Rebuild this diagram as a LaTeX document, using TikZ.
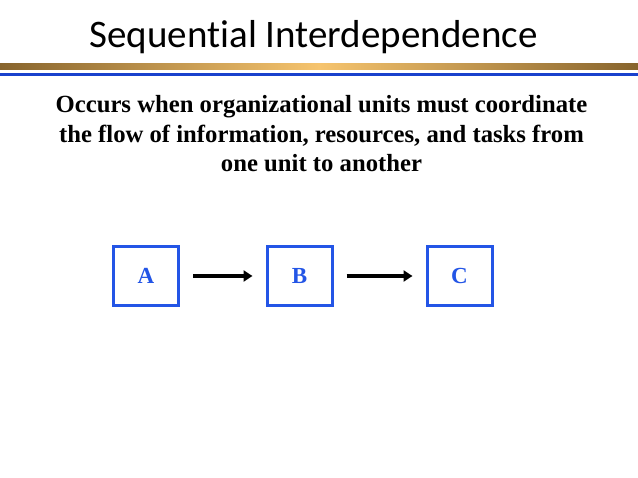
\documentclass[tikz,border=0pt]{standalone}
\usepackage{fontspec}
\setmainfont{Liberation Serif}
\newfontfamily\titlefont[Ligatures=NoCommon]{Carlito}
\usetikzlibrary{arrows.meta}

\definecolor{boxblue}{RGB}{35,85,230}
\definecolor{golddark}{RGB}{135,100,45}
\definecolor{goldlight}{RGB}{246,196,110}
\definecolor{lineblue}{RGB}{25,65,205}

\tikzset{
  unitbox/.style={draw=boxblue, line width=3pt, minimum width=65pt, minimum height=59pt,
    inner sep=0pt, text=boxblue, font=\bfseries\fontsize{23}{26}\selectfont},
  flow/.style={-{Triangle[length=9pt,width=11pt]}, line width=3.5pt,
    shorten <=13pt, shorten >=13pt}
}

\begin{document}
\begin{tikzpicture}[x=1pt,y=-1pt]
  \useasboundingbox (0,0) rectangle (638,478);

  % title and rule
  \node (title) [anchor=base, font=\titlefont\fontsize{39}{42}\selectfont] at (313.5,48) {Sequential Interdependence};
  \shade [left color=golddark, right color=golddark, middle color=goldlight] (0,64) rectangle (638,70);
  \fill [lineblue] (0,73) rectangle (638,76);

  % statement (base = last line)
  \node (text) [anchor=base, align=center, font=\bfseries\fontsize{24.7}{29.5}\selectfont] at (321.5,172)
    {Occurs when organizational units must coordinate\\
     the flow of information, resources, and tasks from\\
     one unit to another};

  % units
  \node (a) [unitbox] at (146,276) {A};
  \node (b) [unitbox] at (299.5,276) {B};
  \node (c) [unitbox] at (459.5,276) {C};

  \draw [flow] (a) -- (b);
  \draw [flow] (b) -- (c);
\end{tikzpicture}
\end{document}
